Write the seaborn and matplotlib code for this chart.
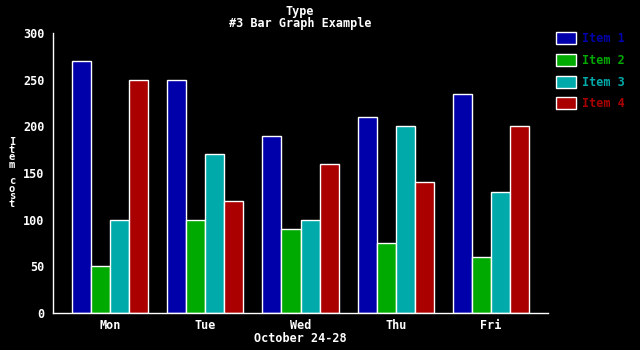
import matplotlib
matplotlib.use("Agg")
import matplotlib.pyplot as plt
import seaborn as sns
import pandas as pd

days = ["Mon", "Tue", "Wed", "Thu", "Fri"]
item1 = [270, 250, 190, 210, 235]
item2 = [50, 100, 90, 75, 60]
item3 = [100, 170, 100, 200, 130]
item4 = [250, 120, 160, 140, 200]
series_names = ["Item 1", "Item 2", "Item 3", "Item 4"]
colors = ["#0000AA", "#00AA00", "#00AAAA", "#AA0000"]
y_ticks = [0, 50, 100, 150, 200, 250, 300]

rows = []
for name, vals in zip(series_names, [item1, item2, item3, item4]):
    for d, v in zip(days, vals):
        rows.append({"day": d, "series": name, "value": v})
df = pd.DataFrame(rows)

sns.set_style("dark")
FONT = "DejaVu Sans Mono"
plt.rcParams["font.family"] = [FONT]
plt.rcParams["font.weight"] = "bold"
FS = 8.5

fig = plt.figure(figsize=(6.4, 3.5), dpi=100, facecolor="black")
ax = fig.add_axes([53/640, 1-313/350, (548-53)/640, (313-33)/350])
ax.set_facecolor("black")

sns.barplot(data=df, x="day", y="value", hue="series", order=days,
            hue_order=series_names, palette=colors, width=0.8,
            edgecolor="white", linewidth=1, saturation=1, ax=ax, legend=True)

ax.set_xlim(-0.6, 4.6)
ax.set_ylim(0, 300)
ax.set_yticks(y_ticks)
ax.grid(False)
for s in ["top", "right"]:
    ax.spines[s].set_visible(False)
for s in ["left", "bottom"]:
    ax.spines[s].set_color("white")
    ax.spines[s].set_linewidth(1)
ax.tick_params(colors="white", length=4, width=1, labelsize=FS)
ax.tick_params(axis="x", pad=0.5)
ax.tick_params(axis="y", pad=2)
for lab in ax.get_xticklabels() + ax.get_yticklabels():
    lab.set_fontweight("bold")
ax.set_xlabel("")
ax.set_ylabel("")

fig.text(300/640, 1-12/350, "Type", color="white", ha="center", va="center",
         fontsize=FS, fontweight="bold")
fig.text(300/640, 1-24/350, "#3 Bar Graph Example", color="white", ha="center",
         va="center", fontsize=FS, fontweight="bold")
fig.text(300/640, 1-339/350, "October 24-28", color="white", ha="center",
         va="center", fontsize=FS, fontweight="bold")
fig.text(12/640, 1-173/350, "\n".join(list("Item cost")), color="white",
         ha="center", va="center", fontsize=7.5, fontweight="bold",
         linespacing=0.72)

leg = ax.legend(loc="upper left", bbox_to_anchor=(551/640, 1-27/350),
                bbox_transform=fig.transFigure, frameon=False,
                handlelength=1.7, handleheight=1.2, handletextpad=0.55,
                labelspacing=0.75, fontsize=FS, borderaxespad=0)
for txt, c in zip(leg.get_texts(), colors):
    txt.set_color(c)
    txt.set_fontweight("bold")
for h in leg.legend_handles:
    h.set_edgecolor("white")
    h.set_linewidth(1)

fig.savefig("out.png", dpi=100, facecolor="black")
